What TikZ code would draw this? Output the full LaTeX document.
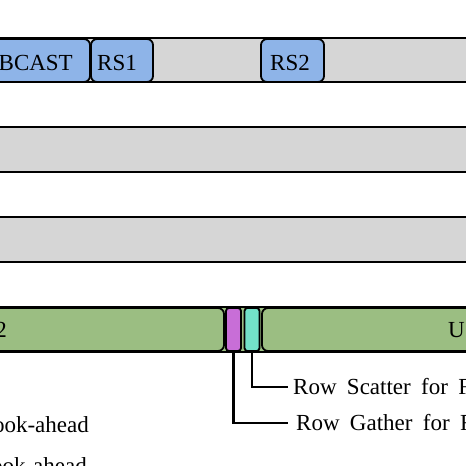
\documentclass[tikz,border=0pt]{standalone}
\usepackage{fontspec}
\setmainfont{Liberation Serif}
\definecolor{barGray}{RGB}{214,214,214}
\definecolor{boxBlue}{RGB}{142,180,232}
\definecolor{boxGreen}{RGB}{155,190,130}
\definecolor{boxMag}{RGB}{200,110,215}
\definecolor{boxCyan}{RGB}{115,225,200}
\begin{document}
\begin{tikzpicture}[x=1pt,y=-1pt,
  bar/.style={draw=black,line width=2.4pt,fill=barGray},
  blk/.style={draw=black,line width=1.8pt,rounded corners=6pt},
  thin/.style={draw=black,line width=1.8pt,rounded corners=3pt,inner sep=0pt},
  lbl/.style={font=\fontsize{23}{27}\selectfont,inner sep=0pt,text=black},
  conn/.style={draw=black,line width=2.4pt}]
\useasboundingbox (0,0) rectangle (466,466);
\clip (0,0) rectangle (466,466);
\fill[white] (0,0) rectangle (466,466);
% row 1
\draw[bar] (-20,38) rectangle (490,82);
\path[blk,fill=boxBlue] (-60,39) rectangle (90,82);
\path[blk,fill=boxBlue] (91,39) rectangle (153,82);
\path[blk,fill=boxBlue] (261,39) rectangle (324,82);
\node[lbl,anchor=base east] (bcast) at (73,70) {BCAST};
\node[lbl,anchor=base west] (rs1) at (97,70) {RS1};
\node[lbl,anchor=base west] (rs2) at (270,70) {RS2};
% rows 2 and 3
\draw[bar] (-20,127) rectangle (490,172);
\draw[bar] (-20,217) rectangle (490,262);
% row 4
\draw[bar,fill=boxGreen] (-20,307) rectangle (490,352);
\path[blk,fill=boxGreen] (-60,308) rectangle (224,351);
\path[blk,fill=boxGreen] (262,308) rectangle (540,351);
\node[thin,fill=boxMag,minimum width=15pt,minimum height=43pt] (mag) at (233.5,329.5) {};
\node[thin,fill=boxCyan,minimum width=15pt,minimum height=43pt] (cya) at (252,329.5) {};
\node[lbl,anchor=base east] (two) at (7,337) {2};
\node[lbl,anchor=base west] (ulbl) at (448,337) {U};
% labels and connectors
\node[lbl,anchor=west,inner xsep=5pt] (scat) at (288,387) {Row\hspace{0.45em}Scatter\hspace{0.45em}for\hspace{0.45em}F};
\node[lbl,anchor=west,inner xsep=8pt] (gath) at (288,423) {Row\hspace{0.45em}Gather\hspace{0.45em}for\hspace{0.45em}F};
\draw[conn] (cya.south) |- (scat.west);
\draw[conn] (mag.south) |- (gath.west);
\node[lbl,anchor=base east] (la1) at (89,432) {ook-ahead};
\node[lbl,anchor=base east] (la2) at (87,473) {ook-ahead};
\end{tikzpicture}
\end{document}
